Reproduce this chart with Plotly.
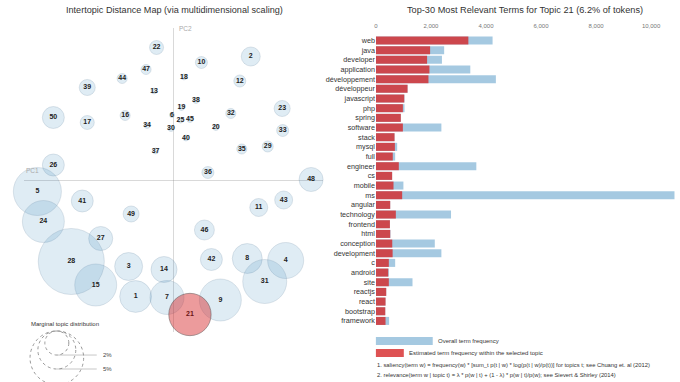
import numpy as np
import plotly.graph_objects as go

# ---------------- data ----------------
topics = list(range(1, 51))
pc1 = [-0.077, 0.154, -0.091, 0.224, -0.274, -0.004, -0.014, 0.147, 0.093, 0.055,
       0.170, 0.132, -0.040, -0.020, -0.157, -0.098, -0.174, 0.020, 0.015, 0.084,
       0.032, -0.035, 0.217, -0.262, 0.013, -0.242, -0.147, -0.206, 0.188, -0.006,
       0.182, 0.114, 0.218, -0.054, 0.136, 0.068, -0.037, 0.044, -0.174, 0.024,
       -0.184, 0.075, 0.220, -0.104, 0.032, 0.061, -0.056, 0.275, -0.086, -0.242]
pc2 = [-0.233, 0.247, -0.173, -0.161, -0.023, 0.130, -0.235, -0.157, -0.240, 0.235,
       -0.055, 0.198, 0.178, -0.179, -0.210, 0.129, 0.115, 0.206, 0.145, 0.105,
       -0.269, 0.265, 0.143, -0.083, 0.119, 0.030, -0.117, -0.163, 0.067, 0.103,
       -0.203, 0.133, 0.099, 0.109, 0.062, 0.015, 0.058, 0.159, 0.185, 0.084,
       -0.042, -0.159, -0.040, 0.203, 0.121, -0.100, 0.221, 0.001, -0.068, 0.125]
topic_pct = [3.5, 1.25, 2.7, 4.5, 8.0, 0.09, 4.0, 3.1, 6.1, 0.5,
             1.12, 0.5, 0.12, 2.34, 6.1, 0.35, 0.68, 0.12, 0.12, 0.12,
             6.2, 0.68, 0.89, 6.1, 0.09, 1.67, 2.0, 15.1, 0.42, 0.12,
             6.7, 0.35, 0.5, 0.12, 0.35, 0.5, 0.12, 0.12, 0.89, 0.12,
             1.67, 1.67, 1.12, 0.35, 0.12, 1.38, 0.35, 2.0, 0.89, 1.67]
selected_topic = 21

terms = ["web", "java", "developer", "application", "développement", "développeur",
         "javascript", "php", "spring", "software", "stack", "mysql", "full",
         "engineer", "cs", "mobile", "ms", "angular", "technology", "frontend",
         "html", "conception", "development", "c", "android", "site", "reactjs",
         "react", "bootstrap", "framework"]
topic_freq = [3360, 1970, 1860, 1945, 1910, 1150, 1030, 980, 905, 980, 677, 690, 613,
              833, 590, 640, 955, 520, 725, 509, 520, 595, 608, 470, 447, 470, 375,
              350, 340, 350]
overall_freq = [4240, 2480, 2400, 3430, 4360, 1150, 1040, 1040, 905, 2380, 677, 773, 700,
                3650, 590, 1000, 10850, 520, 2730, 509, 530, 2140, 2380, 700, 470, 1330,
                375, 350, 340, 480]
bar_ticks = [0, 2000, 4000, 6000, 8000, 10000]
legend_pcts = [2, 5, 10]

# ---------------- styling helpers ----------------
W, H = 680, 382
FONT = "Liberation Sans, Arial, sans-serif"
R_SCALE = 8.5  # px radius per sqrt(percent)


def px(x):
    return x / W


def py(y):
    return 1 - y / H


blue_idx = [i for i, t in enumerate(topics) if t != selected_topic]
red_idx = [i for i, t in enumerate(topics) if t == selected_topic]
diam = [2 * R_SCALE * np.sqrt(p) for p in topic_pct]

fig = go.Figure()

# MDS circles
fig.add_trace(go.Scatter(
    x=[pc1[i] for i in blue_idx], y=[pc2[i] for i in blue_idx],
    mode="markers", cliponaxis=False, hoverinfo="skip",
    marker=dict(size=[diam[i] for i in blue_idx], color="rgba(31,119,180,0.2)",
                line=dict(color="rgba(70,110,140,0.3)", width=0.8)),
    xaxis="x", yaxis="y"))
fig.add_trace(go.Scatter(
    x=[pc1[i] for i in red_idx], y=[pc2[i] for i in red_idx],
    mode="markers", cliponaxis=False, hoverinfo="skip",
    marker=dict(size=[diam[i] for i in red_idx], color="rgba(214,39,40,0.65)",
                line=dict(color="rgba(60,40,40,0.6)", width=1)),
    xaxis="x", yaxis="y"))
fig.add_trace(go.Scatter(
    x=pc1, y=pc2, text=[str(t) for t in topics],
    mode="text", cliponaxis=False, hoverinfo="skip",
    textfont=dict(size=7, family=FONT, weight="bold",
                  color=["#6b1414" if t == selected_topic else "#222" for t in topics]),
    xaxis="x", yaxis="y"))

# Bars
fig.add_trace(go.Bar(
    y=terms, x=overall_freq, orientation="h", marker=dict(color="rgba(31,119,180,0.4)", line=dict(width=0)),
    xaxis="x2", yaxis="y2", hoverinfo="skip"))
fig.add_trace(go.Bar(
    y=terms, x=topic_freq, orientation="h", marker=dict(color="rgba(214,39,40,0.8)", line=dict(width=0)),
    xaxis="x2", yaxis="y2", hoverinfo="skip"))

shapes = []
annotations = []

# legend circles for marginal topic distribution
cx, top = 55, 331
for p in legend_pcts:
    r = R_SCALE * np.sqrt(p)
    shapes.append(dict(type="circle", xref="paper", yref="paper",
                       x0=px(cx - r), x1=px(cx + r), y0=py(top + 2 * r), y1=py(top),
                       line=dict(color="#999", width=1, dash="dot")))
    shapes.append(dict(type="line", xref="paper", yref="paper",
                       x0=px(cx), x1=px(95), y0=py(top + 2 * r), y1=py(top + 2 * r),
                       line=dict(color="rgba(128,128,128,0.45)", width=1)))
    annotations.append(dict(text=f"{p}%", xref="paper", yref="paper", x=px(99), y=py(top + 2 * r),
                            xanchor="left", yanchor="middle", showarrow=False,
                            font=dict(size=6, color="#444", family=FONT)))
annotations.append(dict(text="Marginal topic distribution", xref="paper", yref="paper",
                        x=px(27), y=py(324), xanchor="left", yanchor="middle", showarrow=False,
                        font=dict(size=6, color="#333", family=FONT)))

# bar legend
shapes.append(dict(type="rect", xref="paper", yref="paper", x0=px(375), x1=px(432),
                   y0=py(345), y1=py(337), line=dict(width=0), fillcolor="rgba(31,119,180,0.4)"))
shapes.append(dict(type="rect", xref="paper", yref="paper", x0=px(375), x1=px(403),
                   y0=py(357), y1=py(349), line=dict(width=0), fillcolor="rgba(214,39,40,0.8)"))
annotations.append(dict(text="Overall term frequency", xref="paper", yref="paper",
                        x=px(435), y=py(341), xanchor="left", yanchor="middle", showarrow=False,
                        font=dict(size=6, color="#333", family=FONT)))
annotations.append(dict(text="Estimated term frequency within the selected topic", xref="paper", yref="paper",
                        x=px(406), y=py(353), xanchor="left", yanchor="middle", showarrow=False,
                        font=dict(size=6, color="#333", family=FONT)))
annotations.append(dict(text="1. saliency(term w) = frequency(w) * [sum_t p(t | w) * log(p(t | w)/p(t))] for topics t; see Chuang et. al (2012)",
                        xref="paper", yref="paper", x=px(374), y=py(365), xanchor="left", yanchor="middle",
                        showarrow=False, font=dict(size=5.8, color="#333", family=FONT)))
annotations.append(dict(text="2. relevance(term w | topic t) = λ * p(w | t) + (1 - λ) * p(w | t)/p(w); see Sievert & Shirley (2014)",
                        xref="paper", yref="paper", x=px(374), y=py(375), xanchor="left", yanchor="middle",
                        showarrow=False, font=dict(size=5.8, color="#333", family=FONT)))

# titles
annotations.append(dict(text="Intertopic Distance Map (via multidimensional scaling)", xref="paper", yref="paper",
                        x=px(173), y=py(10), xanchor="center", yanchor="middle", showarrow=False,
                        font=dict(size=9.1, color="#333", family=FONT)))
annotations.append(dict(text="Top-30 Most Relevant Terms for Topic 21 (6.2% of tokens)", xref="paper", yref="paper",
                        x=px(525), y=py(10), xanchor="center", yanchor="middle", showarrow=False,
                        font=dict(size=9.2, color="#333", family=FONT)))
# axis labels
annotations.append(dict(text="PC1", xref="paper", yref="paper", x=px(22), y=py(176),
                        xanchor="left", yanchor="bottom", showarrow=False,
                        font=dict(size=6.5, color="#aaa", family=FONT)))
annotations.append(dict(text="PC2", xref="paper", yref="paper", x=px(176), y=py(34),
                        xanchor="left", yanchor="bottom", showarrow=False,
                        font=dict(size=6.5, color="#aaa", family=FONT)))

# bar axis geometry
row_top = 40.5
row_step = 9.67
y2_top_px = 30
r_top = -(row_top - y2_top_px) / row_step
r_bot = (H - row_top) / row_step
x2_max = (W - 375) / ((651 - 375) / 10000)

fig.update_layout(
    width=W, height=H, margin=dict(l=0, r=0, t=0, b=0),
    paper_bgcolor="white", plot_bgcolor="rgba(0,0,0,0)",
    showlegend=False, barmode="overlay", bargap=0.17,
    font=dict(family=FONT, color="#333"),
    xaxis=dict(domain=[px(22), px(322)], range=[-0.301, 0.299], showgrid=False,
               showticklabels=False, zeroline=True, zerolinecolor="rgba(128,128,128,0.3)",
               zerolinewidth=1, showline=False, anchor="y", fixedrange=True),
    yaxis=dict(domain=[py(332), py(28)], range=[-0.304, 0.304], showgrid=False,
               showticklabels=False, zeroline=True, zerolinecolor="rgba(128,128,128,0.3)",
               zerolinewidth=1, showline=False, anchor="x", fixedrange=True),
    xaxis2=dict(domain=[px(375), 1], range=[0, x2_max], side="top", anchor="y2",
                tickvals=bar_ticks, tickformat=",", showgrid=False, zeroline=False,
                showline=False, ticks="", tickfont=dict(size=6, color="#777", family=FONT)),
    yaxis2=dict(domain=[0, py(y2_top_px)], range=[r_bot, r_top], type="category",
                categoryorder="array", categoryarray=terms, anchor="x2",
                showgrid=False, zeroline=False, showline=False, ticks="",
                tickfont=dict(size=7.2, color="#333", family=FONT)),
    shapes=shapes, annotations=annotations,
)

fig.write_html("out.html",
               config={"displayModeBar": False, "staticPlot": True},
               post_script="document.body.style.margin='0';document.body.style.padding='0';")
